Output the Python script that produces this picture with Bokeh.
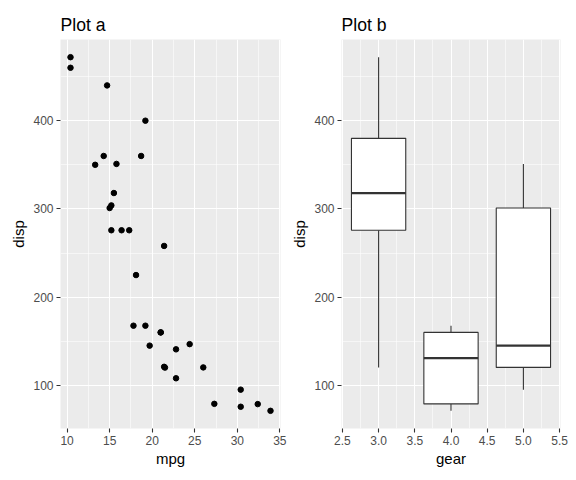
from bokeh.plotting import figure
from bokeh.layouts import row
from bokeh.models import FixedTicker, Range1d, ColumnDataSource, NumeralTickFormatter
from bokeh.embed import file_html
from bokeh.resources import INLINE

# mtcars: mpg, disp, gear
mpg = [21.0, 21.0, 22.8, 21.4, 18.7, 18.1, 14.3, 24.4, 22.8, 19.2, 17.8, 16.4, 17.3, 15.2,
       10.4, 10.4, 14.7, 32.4, 30.4, 33.9, 21.5, 15.5, 15.2, 13.3, 19.2, 27.3, 26.0, 30.4,
       15.8, 19.7, 15.0, 21.4]
disp = [160, 160, 108, 258, 360, 225, 360, 146.7, 140.8, 167.6, 167.6, 275.8, 275.8, 275.8,
        472, 460, 440, 78.7, 75.7, 71.1, 120.1, 318, 304, 350, 400, 79, 120.3, 95.1,
        351, 145, 301, 121]

# box statistics of disp by gear
gear_levels = [3, 4, 5]
box_lower = [120.1, 71.1, 95.1]
box_q1 = [275.8, 78.925, 120.3]
box_median = [318.0, 130.9, 145.0]
box_q3 = [380.0, 160.0, 301.0]
box_upper = [472.0, 167.6, 351.0]
box_width = 0.75

x_ticks_a = [10, 15, 20, 25, 30, 35]
x_minor_a = [12.5, 17.5, 22.5, 27.5, 32.5]
x_ticks_b = [2.5, 3.0, 3.5, 4.0, 4.5, 5.0, 5.5]
x_minor_b = [2.75, 3.25, 3.75, 4.25, 4.75, 5.25]
y_ticks = [100, 200, 300, 400]
y_minor = [150, 250, 350, 450]

FONT = "Liberation Sans"


def style(p, xt, xm, left):
    p.background_fill_color = "#EBEBEB"
    p.border_fill_color = "white"
    p.outline_line_color = None
    p.xaxis.ticker = FixedTicker(ticks=xt, minor_ticks=xm)
    p.yaxis.ticker = FixedTicker(ticks=y_ticks, minor_ticks=y_minor)
    for ax in p.axis:
        ax.axis_line_color = None
        ax.major_tick_line_color = "#333333"
        ax.major_tick_line_width = 1.1
        ax.major_tick_in = 0
        ax.major_tick_out = 4
        ax.minor_tick_line_color = None
        ax.major_label_text_color = "#4D4D4D"
        ax.major_label_text_font = FONT
        ax.major_label_text_font_size = "12px"
        ax.major_label_standoff = 3
        ax.axis_label_text_font = FONT
        ax.axis_label_text_font_size = "15px"
        ax.axis_label_text_font_style = "normal"
        ax.axis_label_text_color = "black"
    p.xaxis.axis_label_standoff = 2
    p.yaxis.axis_label_standoff = 3
    p.grid.grid_line_color = "white"
    p.grid.grid_line_width = 1.1
    p.grid.minor_grid_line_color = "white"
    p.grid.minor_grid_line_width = 0.55
    p.title.text_font = FONT
    p.title.text_font_size = "17.6px"
    p.title.text_font_style = "normal"
    p.title.text_color = "black"
    p.title.offset = 0
    p.min_border_left = left
    p.min_border_right = 8
    p.min_border_top = 39
    p.min_border_bottom = 44


pa = figure(width=288, height=472, output_backend="svg", toolbar_location=None,
            title="Plot a", x_axis_label="mpg", y_axis_label="disp",
            x_range=Range1d(9.225, 35.075), y_range=Range1d(51.055, 492.045))
style(pa, x_ticks_a, x_minor_a, 60)
pa.scatter(mpg, disp, size=5.5, color="black")

pb = figure(width=280, height=472, output_backend="svg", toolbar_location=None,
            title="Plot b", x_axis_label="gear", y_axis_label="disp",
            x_range=Range1d(2.4875, 5.5125), y_range=Range1d(51.055, 492.045))
style(pb, x_ticks_b, x_minor_b, 53)
pb.xaxis.formatter = NumeralTickFormatter(format="0.0")

src = ColumnDataSource(dict(
    x=gear_levels,
    left=[g - box_width / 2 for g in gear_levels],
    right=[g + box_width / 2 for g in gear_levels],
    lower=box_lower, q1=box_q1, med=box_median, q3=box_q3, upper=box_upper,
))
pb.segment(x0="x", x1="x", y0="q3", y1="upper", source=src, line_color="#333333", line_width=1.1)
pb.segment(x0="x", x1="x", y0="lower", y1="q1", source=src, line_color="#333333", line_width=1.1)
pb.quad(left="left", right="right", bottom="q1", top="q3", source=src,
        fill_color="white", line_color="#333333", line_width=1.1)
pb.segment(x0="left", x1="right", y0="med", y1="med", source=src, line_color="#333333", line_width=2.2)

layout = row(pa, pb)
open("out.html", "w").write(file_html(layout, INLINE))
